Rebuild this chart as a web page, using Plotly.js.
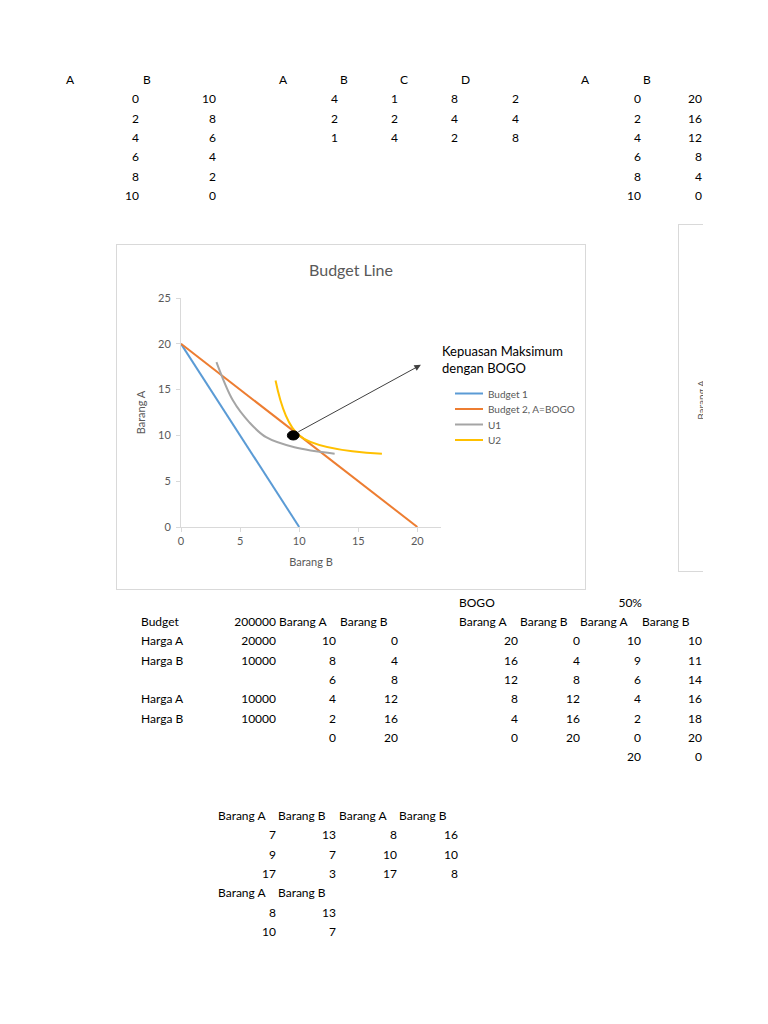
<!DOCTYPE html>
<html>
<head>
<meta charset="utf-8">
<script src="https://cdn.plot.ly/plotly-3.0.1.min.js"></script>
<style>
  html, body { margin: 0; padding: 0; background: #fff; }
  #page { position: relative; width: 768px; height: 1024px; overflow: hidden; background: #fff;
          font-family: Lato, "Open Sans", sans-serif; font-size: 12px; color: #000; }
  #clip { position: absolute; left: 0; top: 0; width: 703px; height: 1024px; overflow: hidden; }
  .t { position: absolute; line-height: 16px; white-space: nowrap; }
  #chartBox { position: absolute; left: 116px; top: 244px; width: 470px; height: 346px;
              box-sizing: border-box; border: 1px solid #d9d9d9; background: #fff; }
  #chart { position: absolute; left: 117px; top: 245px; width: 468px; height: 344px; }
  #chart2Box { position: absolute; left: 678px; top: 224px; width: 60px; height: 348px;
               box-sizing: border-box; border: 1px solid #d9d9d9; border-right: none; }
  #chart2Title { position: absolute; left: 701px; top: 400px; font-size: 10px; color: #595959;
                 transform: translate(-50%, -50%) rotate(-90deg); white-space: nowrap; }
</style>
</head>
<body>
<div id="page">
  <div id="clip">
    <div id="chartBox"></div>
    <div id="chart"></div>
    <div id="chart2Box"></div>
    <div id="chart2Title">Barang A</div>
  </div>
</div>
<script>
// ---------- spreadsheet cell data ----------
const tbl1Headers = ["A", "B"];
const tbl1Col1 = [0, 2, 4, 6, 8, 10];
const tbl1Col2 = [10, 8, 6, 4, 2, 0];

const tbl2Headers = ["A", "B", "C", "D"];
const tbl2Rows = [[4, 1, 8, 2], [2, 2, 4, 4], [1, 4, 2, 8]];

const tbl3Headers = ["A", "B"];
const tbl3Col1 = [0, 2, 4, 6, 8, 10];
const tbl3Col2 = [20, 16, 12, 8, 4, 0];

const budgetLabels = ["Budget", "Harga A", "Harga B", "", "Harga A", "Harga B", ""];
const budgetValues = ["200000", "20000", "10000", "", "10000", "10000", ""];
const budgetColHeaders = ["Barang A", "Barang B"];
const budgetBarangA = [10, 8, 6, 4, 2, 0];
const budgetBarangB = [0, 4, 8, 12, 16, 20];

const bogoLabel = "BOGO";
const discountLabel = "50%";
const bogoColHeaders = ["Barang A", "Barang B", "Barang A", "Barang B"];
const bogoBarangA = [20, 16, 12, 8, 4, 0];
const bogoBarangB = [0, 4, 8, 12, 16, 20];
const discBarangA = [10, 9, 6, 4, 2, 0, 20];
const discBarangB = [10, 11, 14, 16, 18, 20, 0];

const utilHeaders = ["Barang A", "Barang B", "Barang A", "Barang B"];
const util1A = [7, 9, 17];
const util1B = [13, 7, 3];
const util2A = [8, 10, 17];
const util2B = [16, 10, 8];
const util3Headers = ["Barang A", "Barang B"];
const util3A = [8, 10];
const util3B = [13, 7];

// ---------- chart data ----------
const chartTitle = "Budget Line";
const xTitle = "Barang B";
const yTitle = "Barang A";
const budget1X = [0, 2, 4, 6, 8, 10];
const budget1Y = [20, 16, 12, 8, 4, 0];
const budget2X = [0, 4, 8, 12, 16, 20];
const budget2Y = [20, 16, 12, 8, 4, 0];
const u1X = [3, 4.4, 5.8, 7.2, 9.6, 13];
const u1Y = [18, 13.8, 11.4, 9.8, 8.7, 8];
const u2X = [8, 10, 17];
const u2Y = [16, 10, 8];
const optimumX = [9.5];
const optimumY = [10];
const arrowTail = [9.8, 10.3];
const arrowHead = [20.3, 17.7];
const calloutText = "Kepuasan Maksimum<br>dengan BOGO";
const seriesNames = ["Budget 1", "Budget 2, A=BOGO", "U1", "U2"];

// ---------- draw spreadsheet text ----------
const clip = document.getElementById('clip');
function cellL(text, left, cy) {
  if (text === "" || text === undefined) return;
  const d = document.createElement('div');
  d.className = 't'; d.textContent = text;
  d.style.left = left + 'px'; d.style.top = (cy - 8) + 'px';
  clip.appendChild(d);
}
function cellR(text, right, cy) {
  if (text === "" || text === undefined) return;
  const d = document.createElement('div');
  d.className = 't'; d.textContent = String(text);
  d.style.right = (703 - right) + 'px'; d.style.top = (cy - 8) + 'px';
  clip.appendChild(d);
}
const rowH = 19.3;
// table 1
cellL(tbl1Headers[0], 66, 80); cellL(tbl1Headers[1], 143, 80);
tbl1Col1.forEach((v, i) => { cellR(v, 139, 99.3 + i * rowH); cellR(tbl1Col2[i], 216, 99.3 + i * rowH); });
// table 2
const t2L = [279, 340, 400, 461], t2R = [338, 398, 458, 519];
tbl2Headers.forEach((h, j) => cellL(h, t2L[j], 80));
tbl2Rows.forEach((r, i) => r.forEach((v, j) => cellR(v, t2R[j], 99.3 + i * rowH)));
// table 3
cellL(tbl3Headers[0], 581, 80); cellL(tbl3Headers[1], 643, 80);
tbl3Col1.forEach((v, i) => { cellR(v, 641, 99.3 + i * rowH); cellR(tbl3Col2[i], 702, 99.3 + i * rowH); });

// budget block
const bY0 = 622;
cellL(bogoLabel, 459, 603); cellR(discountLabel, 642, 603);
budgetLabels.forEach((t, i) => cellL(t, 141, bY0 + i * rowH));
budgetValues.forEach((t, i) => cellR(t, 276, bY0 + i * rowH));
cellL(budgetColHeaders[0], 279, bY0); cellL(budgetColHeaders[1], 340, bY0);
budgetBarangA.forEach((v, i) => { cellR(v, 336, bY0 + (i + 1) * rowH); cellR(budgetBarangB[i], 398, bY0 + (i + 1) * rowH); });
const bogoL = [459, 520, 580, 642];
bogoColHeaders.forEach((h, j) => cellL(h, bogoL[j], bY0));
bogoBarangA.forEach((v, i) => { cellR(v, 518, bY0 + (i + 1) * rowH); cellR(bogoBarangB[i], 580, bY0 + (i + 1) * rowH); });
discBarangA.forEach((v, i) => { cellR(v, 641, bY0 + (i + 1) * rowH); cellR(discBarangB[i], 702, bY0 + (i + 1) * rowH); });

// utility block
const uY0 = 816;
const uL = [218, 278, 339, 399], uR = [276, 336, 397, 458];
utilHeaders.forEach((h, j) => cellL(h, uL[j], uY0));
util1A.forEach((v, i) => {
  cellR(v, uR[0], uY0 + (i + 1) * rowH); cellR(util1B[i], uR[1], uY0 + (i + 1) * rowH);
  cellR(util2A[i], uR[2], uY0 + (i + 1) * rowH); cellR(util2B[i], uR[3], uY0 + (i + 1) * rowH);
});
const u3Y0 = uY0 + 4 * rowH;
util3Headers.forEach((h, j) => cellL(h, uL[j], u3Y0));
util3A.forEach((v, i) => { cellR(v, uR[0], u3Y0 + (i + 1) * rowH); cellR(util3B[i], uR[1], u3Y0 + (i + 1) * rowH); });

// ---------- chart ----------
const colors = ["#5b9bd5", "#ed7d31", "#a5a5a5", "#ffc000"];
const traces = [
  { x: budget1X, y: budget1Y, name: seriesNames[0], mode: 'lines', line: { color: colors[0], width: 2 } },
  { x: budget2X, y: budget2Y, name: seriesNames[1], mode: 'lines', line: { color: colors[1], width: 2 } },
  { x: u1X, y: u1Y, name: seriesNames[2], mode: 'lines', line: { color: colors[2], width: 2, shape: 'spline', smoothing: 1 } },
  { x: u2X, y: u2Y, name: seriesNames[3], mode: 'lines', line: { color: colors[3], width: 2, shape: 'spline', smoothing: 1 } }
];
const W = 468, H = 344, ML = 64, MR = 10, MT = 53, MB = 62;
const paperW = W - ML - MR;            // 394
const plotW = 260;                      // x-axis length in px
const absLeft = 117 + ML;               // absolute x of x=0
const absBottom = 245 + H - MB;         // absolute y of y=0
const plotH = H - MT - MB;
const px = (a) => (a - absLeft) / paperW;
const py = (a) => (absBottom - a) / plotH;

const axisCommon = {
  showgrid: false, zeroline: false, showline: true, linecolor: '#d9d9d9', linewidth: 1,
  ticks: 'outside', ticklen: 4, tickcolor: '#d9d9d9', tickfont: { family: 'Lato', size: 11, color: '#595959' },
  dtick: 5
};

// hand-placed legend rows (real text), colors from series
const legendRowsY = [393.5, 409, 424.5, 440];
const legendShapes = seriesNames.map((n, i) => ({
  type: 'line', xref: 'paper', yref: 'paper', x0: px(455), x1: px(483), y0: py(legendRowsY[i]), y1: py(legendRowsY[i]),
  line: { color: colors[i], width: 2 }
}));
const legendAnns = seriesNames.map((n, i) => ({
  xref: 'paper', yref: 'paper', x: px(486), y: py(legendRowsY[i]), xanchor: 'left', yanchor: 'middle',
  showarrow: false, text: n, font: { family: 'Lato', size: 10, color: '#595959' }
}));

const layout = {
  width: W, height: H,
  margin: { l: ML, r: MR, t: MT, b: MB },
  paper_bgcolor: 'rgba(0,0,0,0)', plot_bgcolor: 'rgba(0,0,0,0)',
  font: { family: 'Lato', color: '#595959' },
  title: { text: chartTitle, font: { family: 'Lato', size: 16, color: '#595959' }, x: 0.5, xanchor: 'center', y: 0.925, yanchor: 'middle' },
  xaxis: Object.assign({}, axisCommon, { domain: [0, plotW / paperW], range: [0, 22],
    title: { text: xTitle, font: { family: 'Lato', size: 11, color: '#595959' }, standoff: 12 } }),
  yaxis: Object.assign({}, axisCommon, { range: [0, 25], ticklabelstandoff: 3,
    title: { text: yTitle, font: { family: 'Lato', size: 11, color: '#595959' }, standoff: 10 } }),
  showlegend: false,
  shapes: [{
    type: 'circle', xref: 'x', yref: 'y',
    x0: optimumX[0] - 0.5, x1: optimumX[0] + 0.5, y0: optimumY[0] - 0.5, y1: optimumY[0] + 0.5,
    fillcolor: '#000', line: { color: '#000', width: 1 }
  }].concat(legendShapes),
  annotations: [
    { x: arrowHead[0], y: arrowHead[1], xref: 'x', yref: 'y', ax: arrowTail[0], ay: arrowTail[1], axref: 'x', ayref: 'y',
      showarrow: true, arrowhead: 2, arrowsize: 1.3, arrowwidth: 1, arrowcolor: '#404040', text: '' },
    { x: px(440), y: py(359), xref: 'paper', yref: 'paper', xanchor: 'left', yanchor: 'middle', align: 'left', showarrow: false,
      text: calloutText, font: { family: 'Lato', size: 13, color: '#000' } }
  ].concat(legendAnns),
  hovermode: false
};
Plotly.newPlot('chart', traces, layout, { displayModeBar: false, staticPlot: true });
</script>
</body>
</html>
